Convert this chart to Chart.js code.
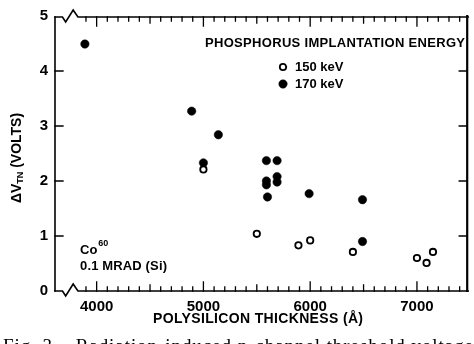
<!DOCTYPE html>
<html>
<head>
<meta charset="utf-8">
<script src="https://cdn.jsdelivr.net/npm/chart.js@4"></script>
<style>
  body { margin: 0; background: #fff; }
  canvas { display: block; }
</style>
</head>
<body>
<canvas id="thicknessChart" width="474" height="344"></canvas>
<script>
// data
const xTickValues = [4000, 5000, 6000, 7000];
const yTickValues = [0, 1, 2, 3, 4, 5];

const kev150Thickness = [5000, 5500, 5890, 6000, 6400, 7000, 7090, 7150];
const kev150Shift = [2.21, 1.04, 0.83, 0.92, 0.71, 0.60, 0.51, 0.71];

const kev170Thickness = [3890, 4890, 5140, 5000, 5590, 5690, 5590, 5590, 5690, 5690, 5600, 5990, 6490, 6490];
const kev170Shift = [4.49, 3.27, 2.84, 2.33, 2.37, 2.37, 2.00, 1.93, 2.08, 1.98, 1.71, 1.77, 1.66, 0.90];

const seriesLabels = ["150 keV", "170 keV"];
const legendTitle = "PHOSPHORUS IMPLANTATION ENERGY";

function toPoints(xs, ys) {
    return xs.map((x, i) => ({ x: x, y: ys[i] }));
}

const FONT = "'Liberation Sans', Arial, sans-serif";

// fit a string to a width using letter spacing
function fitText(ctx, text, x, y, width, align) {
    ctx.letterSpacing = "0px";
    const w = ctx.measureText(text).width;
    const extra = (width - w) / Math.max(text.length - 1, 1);
    ctx.letterSpacing = extra + "px";
    ctx.textAlign = align || "left";
    ctx.fillText(text, x, y);
    ctx.letterSpacing = "0px";
}

const decorations = {
    id: "decorations",
    afterDraw(chart) {
        const ctx = chart.ctx;
        const xs = chart.scales.x;
        const ys = chart.scales.y;
        const area = chart.chartArea;
        ctx.save();
        ctx.strokeStyle = "#000";
        ctx.fillStyle = "#000";
        ctx.lineCap = "square";

        // axis break zigzags on top and bottom
        const zig = (yBase, dir) => {
            ctx.beginPath();
            ctx.moveTo(area.left, yBase);
            ctx.lineTo(xs.getPixelForValue(3680), yBase);
            ctx.lineTo(xs.getPixelForValue(3710), yBase + 5 * dir);
            ctx.lineTo(xs.getPixelForValue(3780), yBase - 7 * dir);
            ctx.lineTo(xs.getPixelForValue(3825), yBase);
            ctx.lineTo(area.right, yBase);
            ctx.stroke();
        };
        ctx.lineWidth = 1.6;
        zig(area.top + 1, 1);
        zig(area.bottom, 1);

        // left and right axis lines
        ctx.beginPath();
        ctx.moveTo(area.left, area.top + 1);
        ctx.lineTo(area.left, area.bottom);
        ctx.stroke();
        ctx.lineWidth = 2.2;
        ctx.beginPath();
        ctx.moveTo(area.right - 1, area.top);
        ctx.lineTo(area.right - 1, area.bottom);
        ctx.stroke();

        // minor/major ticks on x, pointing inward
        ctx.lineWidth = 1.3;
        for (let v = 3900; v <= 7400; v += 100) {
            const px = xs.getPixelForValue(v);
            const len = v % 1000 === 0 ? 9 : (v % 500 === 0 ? 6 : 4);
            ctx.beginPath();
            ctx.moveTo(px, area.bottom);
            ctx.lineTo(px, area.bottom - len);
            ctx.moveTo(px, area.top + 1);
            ctx.lineTo(px, area.top + 1 + len);
            ctx.stroke();
        }
        // y ticks on both sides
        yTickValues.slice(1, -1).forEach(v => {
            const py = ys.getPixelForValue(v);
            ctx.beginPath();
            ctx.moveTo(area.left, py);
            ctx.lineTo(area.left + 8, py);
            ctx.moveTo(area.right - 1, py);
            ctx.lineTo(area.right - 9, py);
            ctx.stroke();
        });

        // y axis title: ΔV_TN (VOLTS)
        ctx.save();
        ctx.translate(17, 158);
        ctx.rotate(-Math.PI / 2);
        ctx.textBaseline = "middle";
        ctx.textAlign = "left";
        const big = "bold 14px " + FONT;
        const small = "bold 9px " + FONT;
        ctx.font = big;
        const w1 = ctx.measureText("\u0394V").width;
        ctx.font = small;
        const w2 = ctx.measureText("TN").width;
        ctx.font = big;
        const w3 = ctx.measureText(" (VOLTS)").width;
        let cx = -(w1 + w2 + w3) / 2;
        ctx.fillText("\u0394V", cx, 0);
        cx += w1;
        ctx.font = small;
        ctx.fillText("TN", cx, 4);
        cx += w2;
        ctx.font = big;
        ctx.fillText(" (VOLTS)", cx, 0);
        ctx.restore();

        // x axis title
        ctx.font = "bold 14px " + FONT;
        ctx.textBaseline = "middle";
        fitText(ctx, "POLYSILICON THICKNESS (\u00c5)", 153, 319, 210, "left");

        // legend
        ctx.font = "bold 13px " + FONT;
        fitText(ctx, legendTitle, 205, 43, 260, "left");
        const ds = chart.data.datasets;
        [67, 84].forEach((ly, i) => {
            const d = ds[i];
            ctx.beginPath();
            ctx.arc(283, ly, d.pointRadius, 0, Math.PI * 2);
            ctx.fillStyle = d.pointBackgroundColor;
            ctx.fill();
            ctx.lineWidth = d.pointBorderWidth;
            ctx.strokeStyle = d.pointBorderColor;
            ctx.stroke();
            ctx.fillStyle = "#000";
            ctx.font = "bold 13px " + FONT;
            ctx.textAlign = "left";
            ctx.fillText(seriesLabels[i], 295, ly);
        });

        // irradiation note
        ctx.font = "bold 13px " + FONT;
        ctx.fillText("Co", 80, 250);
        const coW = ctx.measureText("Co").width;
        ctx.font = "bold 9px " + FONT;
        ctx.fillText("60", 80 + coW + 1, 244);
        ctx.font = "bold 13px " + FONT;
        fitText(ctx, "0.1 MRAD (Si)", 80, 266, 87, "left");

        // caption, cut off by the page edge
        ctx.font = "19px 'Liberation Serif', serif";
        ctx.textBaseline = "alphabetic";
        fitText(ctx, "Fig. 3.   Radiation-induced n-channel threshold voltage", 3, 352, 470, "left");

        ctx.restore();
    }
};

document.addEventListener("DOMContentLoaded", function () {
    const ctx = document.getElementById("thicknessChart").getContext("2d");
    new Chart(ctx, {
        type: "scatter",
        data: {
            datasets: [
                {
                    label: seriesLabels[0],
                    data: toPoints(kev150Thickness, kev150Shift),
                    pointStyle: "circle",
                    pointRadius: 3.2,
                    pointBorderWidth: 1.8,
                    pointBackgroundColor: "#fff",
                    pointBorderColor: "#000",
                },
                {
                    label: seriesLabels[1],
                    data: toPoints(kev170Thickness, kev170Shift),
                    pointStyle: "circle",
                    pointRadius: 4.2,
                    pointBorderWidth: 0.5,
                    pointBackgroundColor: "#000",
                    pointBorderColor: "#000",
                },
            ],
        },
        options: {
            responsive: false,
            animation: false,
            devicePixelRatio: 1,
            layout: { padding: { top: 8, right: 2, left: 0, bottom: 0 } },
            plugins: {
                legend: { display: false },
                tooltip: { enabled: false },
            },
            scales: {
                x: {
                    type: "linear",
                    min: 3610,
                    max: 7480,
                    grid: { display: false, drawTicks: false },
                    border: { display: false },
                    afterBuildTicks: (s) => { s.ticks = xTickValues.map(v => ({ value: v })); },
                    afterFit: (s) => { s.height = 53; },
                    ticks: {
                        color: "#000",
                        padding: 7,
                        maxRotation: 0,
                        callback: (v) => String(v),
                        font: { family: FONT, size: 15, weight: "bold" },
                    },
                },
                y: {
                    min: 0,
                    max: 5,
                    grid: { display: false, drawTicks: false },
                    border: { display: false },
                    afterBuildTicks: (s) => { s.ticks = yTickValues.map(v => ({ value: v })); },
                    afterFit: (s) => { s.width = 55; },
                    ticks: {
                        color: "#000",
                        padding: 7,
                        font: { family: FONT, size: 15, weight: "bold" },
                    },
                },
            },
        },
        plugins: [decorations],
    });
});
</script>
</body>
</html>
